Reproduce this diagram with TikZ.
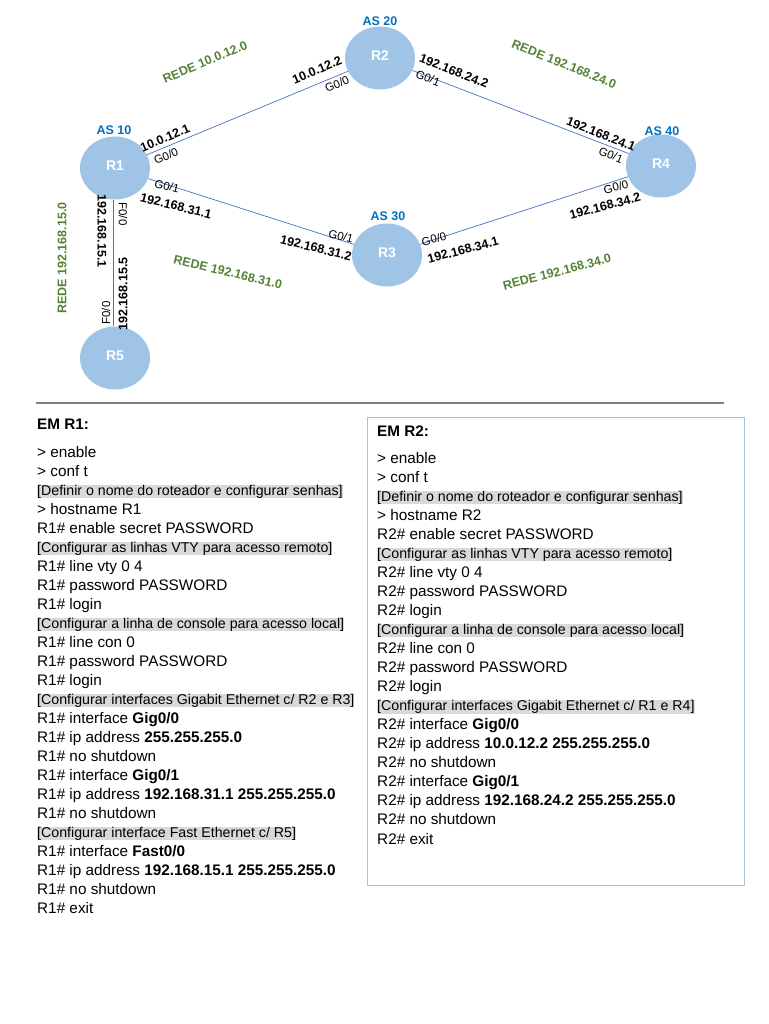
\documentclass[tikz,border=0pt]{standalone}
\usepackage{fontspec}
\setmainfont{Liberation Sans}
\usetikzlibrary{shapes.geometric}
\definecolor{nodefill}{RGB}{160,196,230}
\definecolor{linkblue}{RGB}{68,114,196}
\definecolor{asblue}{RGB}{0,112,192}
\definecolor{redegreen}{RGB}{84,130,53}
\definecolor{hlgray}{RGB}{217,217,217}
\definecolor{boxblue}{RGB}{157,195,230}
\definecolor{sepgray}{RGB}{128,128,128}
\begin{document}
\begin{tikzpicture}[x=1pt,y=-1pt,
 router/.style={ellipse, fill=nodefill, minimum width=70pt, minimum height=63pt, inner sep=0pt,
   text=white, text depth=5pt, font=\fontsize{14}{16}\selectfont\bfseries},
 link/.style={draw=linkblue, line width=0.7pt},
 aslbl/.style={text=asblue, font=\fontsize{12.5}{15}\selectfont\bfseries, inner sep=0pt},
 rede/.style={text=redegreen, font=\fontsize{12.5}{15}\selectfont\bfseries, inner sep=0pt},
 ip/.style={font=\fontsize{12.5}{14}\selectfont\bfseries, inner sep=0pt},
 ifc/.style={font=\fontsize{11.5}{13}\selectfont, inner sep=0pt},
 cfg/.style={anchor=base west, inner sep=0pt, font=\fontsize{15.3}{19}\selectfont},
 cmt/.style={anchor=base west, inner sep=0pt, fill=hlgray, font=\fontsize{14.2}{17}\selectfont},
 hd/.style={anchor=base west, inner sep=0pt, font=\fontsize{15.3}{19}\selectfont\bfseries},
]
\useasboundingbox (0,0) rectangle (768,1024);

% ---------- routers ----------
\node[router] (R1) at (115,168) {R1};
\node[router] (R2) at (380,58) {R2};
\node[router] (R3) at (387,255) {R3};
\node[router] (R4) at (661,166) {R4};
\node[router] (R5) at (115,358) {R5};

\node[aslbl] (as10) at (114,130) {AS 10};
\node[aslbl] (as20) at (380,21) {AS 20};
\node[aslbl] (as30) at (388,216) {AS 30};
\node[aslbl] (as40) at (662,131) {AS 40};

% ---------- links ----------
\draw[link] (R1) -- (R2);
\draw[link] (R2) -- (R4);
\draw[link] (R1) -- (R3);
\draw[link] (R3) -- (R4);
\draw[link] (R1.south) ++(-2,0) coordinate (R1s) (R5.north) ++(-2,0) coordinate (R5n);
\draw[link] (R1s) -- (R5n);

% ---------- link labels ----------
% R1 - R2
\node[rede, rotate=23] (n12) at (205,62) {REDE 10.0.12.0};
\node[ip, rotate=23] (ip121) at (165,138) {10.0.12.1};
\node[ifc, rotate=23] (if121) at (166,156) {G0/0};
\node[ip, rotate=23] (ip122) at (317,70) {10.0.12.2};
\node[ifc, rotate=23] (if122) at (337,84) {G0/0};
% R2 - R4
\node[rede, rotate=-21.8] (n24) at (564,64) {REDE 192.168.24.0};
\node[ip, rotate=-21.8] (ip242) at (454,71) {192.168.24.2};
\node[ifc, rotate=-21.8] (if242) at (428,78) {G0/1};
\node[ip, rotate=-21.8] (ip241) at (601,134) {192.168.24.1};
\node[ifc, rotate=-21.8] (if241) at (611,155) {G0/1};
% R1 - R3
\node[rede, rotate=-13.6] (n31) at (228,272) {REDE 192.168.31.0};
\node[ifc, rotate=-13.6] (if311) at (167,186) {G0/1};
\node[ip, rotate=-13.6] (ip311) at (176,206) {192.168.31.1};
\node[ifc, rotate=-13.6] (if312) at (341,236) {G0/1};
\node[ip, rotate=-13.6] (ip312) at (316,248) {192.168.31.2};
% R3 - R4
\node[rede, rotate=14.7] (n34) at (557,272) {REDE 192.168.34.0};
\node[ifc, rotate=14.7] (if341) at (434,239) {G0/0};
\node[ip, rotate=14.7] (ip341) at (463,250) {192.168.34.1};
\node[ifc, rotate=14.7] (if342) at (616,187) {G0/0};
\node[ip, rotate=14.7] (ip342) at (605,206) {192.168.34.2};
% R1 - R5
\node[rede, rotate=90] (n15) at (62,258) {REDE 192.168.15.0};
\node[ip, rotate=-90] (ip151) at (102,231) {192.168.15.1};
\node[ifc, rotate=-90] (if151) at (123,214) {F0/0};
\node[ip, rotate=90] (ip155) at (123,294) {192.168.15.5};
\node[ifc, rotate=90] (if155) at (106,313) {F0/0};

% ---------- separator ----------
\coordinate (sepL) at (36,403);
\coordinate (sepR) at (724,403);
\draw[sepgray, line width=1.4pt] (sepL) -- (sepR);

% ---------- R1 config ----------
\node[hd]  (a0)  at (37,429.5) {EM R1:};
\node[cfg] (a1)  at (37,457.5) {> enable};
\node[cfg] (a2)  at (37,476.5) {> conf t};
\node[cmt] (a3)  at (37,495.5) {[Definir o nome do roteador e configurar senhas]};
\node[cfg] (a4)  at (37,514.5) {> hostname R1};
\node[cfg] (a5)  at (37,533.5) {R1\# enable secret PASSWORD};
\node[cmt] (a6)  at (37,552.5) {[Configurar as linhas VTY para acesso remoto]};
\node[cfg] (a7)  at (37,571.5) {R1\# line vty 0 4};
\node[cfg] (a8)  at (37,590.5) {R1\# password PASSWORD};
\node[cfg] (a9)  at (37,609.5) {R1\# login};
\node[cmt] (a10) at (37,628.5) {[Configurar a linha de console para acesso local]};
\node[cfg] (a11) at (37,647.5) {R1\# line con 0};
\node[cfg] (a12) at (37,666.5) {R1\# password PASSWORD};
\node[cfg] (a13) at (37,685.5) {R1\# login};
\node[cmt] (a14) at (37,704.5) {[Configurar interfaces Gigabit Ethernet c/ R2 e R3]};
\node[cfg] (a15) at (37,723.5) {R1\# interface \textbf{Gig0/0}};
\node[cfg] (a16) at (37,742.5) {R1\# ip address \textbf{255.255.255.0}};
\node[cfg] (a17) at (37,761.5) {R1\# no shutdown};
\node[cfg] (a18) at (37,780.5) {R1\# interface \textbf{Gig0/1}};
\node[cfg] (a19) at (37,799.5) {R1\# ip address \textbf{192.168.31.1 255.255.255.0}};
\node[cfg] (a20) at (37,818.5) {R1\# no shutdown};
\node[cmt] (a21) at (37,837.5) {[Configurar interface Fast Ethernet c/ R5]};
\node[cfg] (a22) at (37,856.5) {R1\# interface \textbf{Fast0/0}};
\node[cfg] (a23) at (37,875.5) {R1\# ip address \textbf{192.168.15.1 255.255.255.0}};
\node[cfg] (a24) at (37,894.5) {R1\# no shutdown};
\node[cfg] (a25) at (37,913.5) {R1\# exit};

% ---------- R2 config ----------
\draw[boxblue, line width=0.9pt] (367.5,417.5) rectangle (744.5,885);
\node[hd]  (b0)  at (377,436.5) {EM R2:};
\node[cfg] (b1)  at (377,463) {> enable};
\node[cfg] (b2)  at (377,482.05) {> conf t};
\node[cmt] (b3)  at (377,501.1) {[Definir o nome do roteador e configurar senhas]};
\node[cfg] (b4)  at (377,520.15) {> hostname R2};
\node[cfg] (b5)  at (377,539.2) {R2\# enable secret PASSWORD};
\node[cmt] (b6)  at (377,558.25) {[Configurar as linhas VTY para acesso remoto]};
\node[cfg] (b7)  at (377,577.3) {R2\# line vty 0 4};
\node[cfg] (b8)  at (377,596.35) {R2\# password PASSWORD};
\node[cfg] (b9)  at (377,615.4) {R2\# login};
\node[cmt] (b10) at (377,634.45) {[Configurar a linha de console para acesso local]};
\node[cfg] (b11) at (377,653.5) {R2\# line con 0};
\node[cfg] (b12) at (377,672.55) {R2\# password PASSWORD};
\node[cfg] (b13) at (377,691.6) {R2\# login};
\node[cmt] (b14) at (377,710.65) {[Configurar interfaces Gigabit Ethernet c/ R1 e R4]};
\node[cfg] (b15) at (377,729.7) {R2\# interface \textbf{Gig0/0}};
\node[cfg] (b16) at (377,748.75) {R2\# ip address \textbf{10.0.12.2 255.255.255.0}};
\node[cfg] (b17) at (377,767.8) {R2\# no shutdown};
\node[cfg] (b18) at (377,786.85) {R2\# interface \textbf{Gig0/1}};
\node[cfg] (b19) at (377,805.9) {R2\# ip address \textbf{192.168.24.2 255.255.255.0}};
\node[cfg] (b20) at (377,824.95) {R2\# no shutdown};
\node[cfg] (b21) at (377,844) {R2\# exit};
\end{tikzpicture}
\end{document}
